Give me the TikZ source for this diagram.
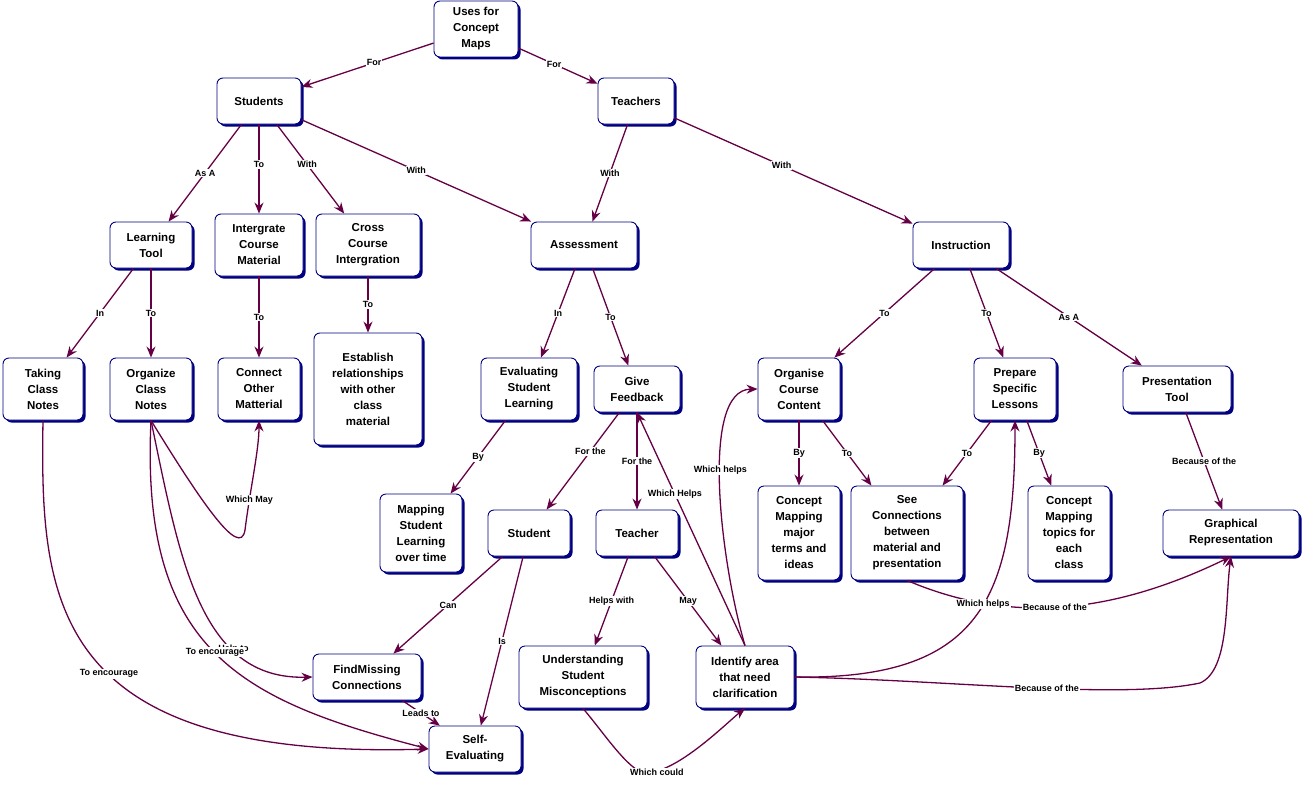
\documentclass[tikz,border=0pt]{standalone}
\usepackage{fontspec}
\setmainfont{Liberation Sans}
\usetikzlibrary{arrows.meta,shadows}
\definecolor{edge}{HTML}{660044}
\definecolor{nav}{HTML}{000080}
\begin{document}
\begin{tikzpicture}[x=1pt,y=-1pt,
 box/.style={draw=nav,line width=0.9pt,fill=white,rounded corners=6pt,align=center,
   font=\bfseries\fontsize{11.5}{16}\selectfont,inner sep=1pt,
   drop shadow={shadow xshift=2.5pt,shadow yshift=-2.5pt,fill=nav,opacity=1}},
 lab/.style={fill=white,inner sep=1pt,font=\bfseries\fontsize{9}{10}\selectfont},
 con/.style={draw=edge,line width=1.3pt,-{Stealth[length=11pt,width=9pt]}}]
\useasboundingbox (0,0) rectangle (1305,808);
\newcommand\bx[6]{\node[box,minimum width=#4,minimum height=#5] (#1) at (#2,#3) {#6};}
\bx{uses}{476}{29}{84}{56}{Uses for\\Concept\\Maps}
\bx{students}{259}{101}{84}{46}{Students}
\bx{teachers}{636}{101}{76}{46}{Teachers}
\bx{lt}{151}{245}{82}{46}{Learning\\Tool}
\bx{icm}{259}{245}{88}{62}{Intergrate\\Course\\Material}
\bx{cci}{368}{245}{104}{62}{Cross\\Course\\Intergration}
\bx{assess}{584}{245}{106}{46}{Assessment}
\bx{instr}{961}{245}{96}{46}{Instruction}
\bx{tcn}{43}{389}{80}{62}{Taking\\Class\\Notes}
\bx{ocn}{151}{389}{82}{62}{Organize\\Class\\Notes}
\bx{com}{259}{389}{82}{62}{Connect\\Other\\Matterial}
\bx{est}{368}{389}{108}{112}{Establish\\relationships\\with other\\class\\material}
\bx{esl}{529}{389}{96}{62}{Evaluating\\Student\\Learning}
\bx{gf}{637}{389}{86}{46}{Give\\Feedback}
\bx{org}{799}{389}{82}{62}{Organise\\Course\\Content}
\bx{psl}{1015}{389}{82}{62}{Prepare\\Specific\\Lessons}
\bx{pt}{1177}{389}{108}{46}{Presentation\\Tool}
\bx{msl}{421}{533}{82}{78}{Mapping\\Student\\Learning\\over time}
\bx{student}{529}{533}{82}{46}{Student}
\bx{teacher}{637}{533}{82}{46}{Teacher}
\bx{cmm}{799}{533}{82}{94}{Concept\\Mapping\\major\\terms and\\ideas}
\bx{see}{907}{533}{112}{94}{See\\Connections\\between\\material and\\presentation}
\bx{cmt}{1069}{533}{82}{94}{Concept\\Mapping\\topics for\\each\\class}
\bx{gr}{1231}{533}{136}{46}{Graphical\\Representation}
\bx{fmc}{367}{677}{108}{46}{FindMissing\\Connections}
\bx{usm}{583}{677}{128}{62}{Understanding\\Student\\Misconceptions}
\bx{iac}{745}{677}{98}{62}{Identify area\\that need\\clarification}
\bx{se}{475}{749}{92}{46}{Self-\\Evaluating}
\draw[con] (uses) -- node[lab,pos=.45]{For} (students);
\draw[con] (uses) -- node[lab,pos=.45]{For} (teachers);
\draw[con] (students) -- node[lab]{As A} (lt);
\draw[con] (students) -- node[lab,pos=.45]{To} (icm);
\draw[con] (students) -- node[lab,pos=.45]{With} (cci);
\draw[con] (students) -- node[lab,pos=.5]{With} (assess);
\draw[con] (teachers) -- node[lab]{With} (assess);
\draw[con] (teachers) -- node[lab,pos=.45]{With} (instr);
\draw[con] (lt) -- node[lab]{In} (tcn);
\draw[con] (lt) -- node[lab]{To} (ocn);
\draw[con] (icm) -- node[lab]{To} (com);
\draw[con] (cci) -- node[lab]{To} (est);
\draw[con] (assess) -- node[lab]{In} (esl);
\draw[con] (assess) -- node[lab]{To} (gf);
\draw[con] (instr) -- node[lab]{To} (org);
\draw[con] (instr) -- node[lab]{To} (psl);
\draw[con] (instr) -- node[lab]{As A} (pt);
\draw[con] (esl) -- node[lab]{By} (msl);
\draw[con] (gf) -- node[lab,pos=.4]{For the} (student);
\draw[con] (gf) -- node[lab,pos=.5]{For the} (teacher);
\draw[con] (org) -- node[lab]{By} (cmm);
\draw[con] (org) -- node[lab]{To} (see);
\draw[con] (psl) -- node[lab]{To} (see);
\draw[con] (psl) -- node[lab]{By} (cmt);
\draw[con] (pt) -- node[lab]{Because of the} (gr);
\draw[con] (student) -- node[lab]{Can} (fmc);
\draw[con] (student) -- node[lab]{Is} (se);
\draw[con] (teacher) -- node[lab]{Helps with} (usm);
\draw[con] (teacher) -- node[lab]{May} (iac);
\draw[con] (fmc) -- node[lab]{Leads to} (se);
\draw[con] (iac.north) -- node[lab,pos=.65]{Which Helps} (gf.south);
\draw[con] (iac.north) .. controls (720,560) and (700,390) .. node[lab,pos=.55]{Which helps} (org.west);
\draw[con] (see.south) .. controls (1000,620) and (1100,620) .. node[lab,pos=.5]{Because of the} (gr.south);
\draw[con] (iac.east) .. controls (980,680) and (1015,600) .. node[lab,pos=.55]{Which helps} (psl.south);
\draw[con] (iac.east) .. controls (950,680) and (1120,700) .. node[lab,pos=.55]{Because of the} (1200,683) .. controls (1230,670) and (1225,600) .. (gr.south);
\draw[con] (ocn.south) .. controls (200,500) and (240,560) .. (245,530) .. controls (250,490) and (259,450) .. node[lab,pos=.25]{Which May} (com.south);
\draw[con] (ocn.south) .. controls (180,560) and (200,680) .. node[lab,pos=.7]{Help to} (fmc.west);
\draw[con] (ocn.south) .. controls (140,650) and (240,700) .. node[lab,pos=.5]{To encourage} (se.west);
\draw[con] (tcn.south) .. controls (40,600) and (50,760) .. node[lab,pos=.55]{To encourage} (se.west);
\draw[con] (usm.south) .. controls (610,740) and (640,790) .. node[lab,pos=.95]{Which could} (660,770) .. controls (690,760) and (730,720) .. (iac.south);
\end{tikzpicture}
\end{document}
